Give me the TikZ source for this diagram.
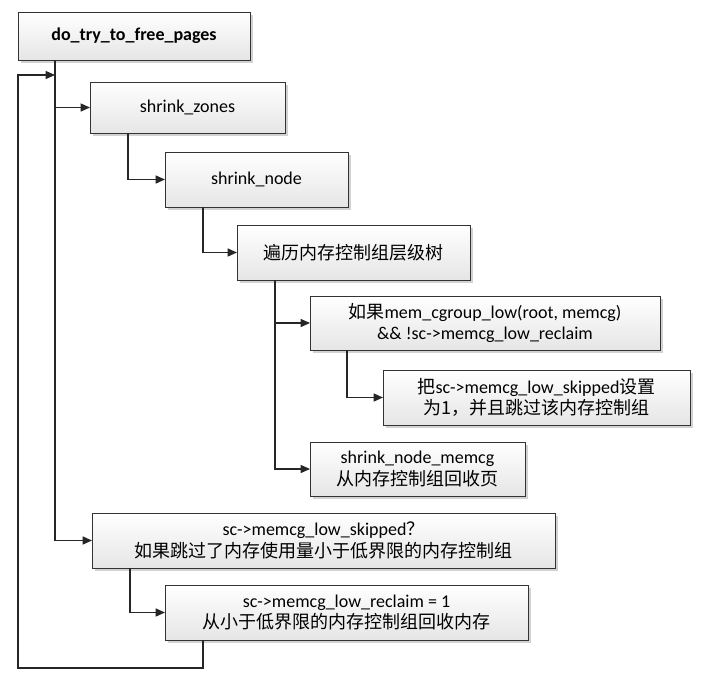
\documentclass[tikz,border=0pt]{standalone}
\usepackage{fontspec}
\setmainfont{Carlito}
\newfontfamily\cjk{Noto Sans CJK SC}
\usetikzlibrary{arrows.meta,shadows}
\begin{document}
\begin{tikzpicture}[x=0.75pt,y=-0.75pt,
  bx/.style={draw=black!80,top color=white,bottom color=black!10,drop shadow={shadow xshift=2pt,shadow yshift=-2pt,fill=black!35},align=center,inner sep=0},
  ar/.style={-{Triangle[length=7pt,width=6pt]},line width=1pt,black!85}]
\useasboundingbox (0,0) rectangle (701,683);
\newcommand\bxx[6]{\path[bx] (#2,#3) rectangle (#4,#5); \node[font=\fontsize{13.5}{16}\selectfont,align=center] (#1) at ({(#2+#4)/2},{(#3+#5)/2}) {#6}; \coordinate (#1w) at (#2,{(#3+#5)/2});}
\bxx{a}{18}{12}{250}{60}{\textbf{do\_try\_to\_free\_pages}}
\bxx{b}{90}{82}{285}{133}{shrink\_zones}
\bxx{c}{165}{152}{348}{207}{shrink\_node}
\bxx{d}{237}{225}{470}{280}{\cjk 遍历内存控制组层级树}
\bxx{e}{310}{296}{660}{350}{{\cjk 如果}mem\_cgroup\_low(root, memcg)\\\&\& !sc->memcg\_low\_reclaim}
\bxx{f}{383}{370}{690}{425}{{\cjk 把}sc->memcg\_low\_skipped{\cjk 设置}\\{\cjk 为1，并且跳过该内存控制组}}
\bxx{g}{310}{442}{525}{496}{shrink\_node\_memcg\\{\cjk 从内存控制组回收页}}
\bxx{h}{92}{513}{555}{568}{sc->memcg\_low\_skipped{\cjk ？}\\{\cjk 如果跳过了内存使用量小于低界限的内存控制组}}
\bxx{i}{165}{585}{528}{640}{sc->memcg\_low\_reclaim = 1\\{\cjk 从小于低界限的内存控制组回收内存}}
\coordinate (a1) at (55,60); \coordinate (b1) at (128,133); \coordinate (c1) at (203,207);
\coordinate (d1) at (275,280); \coordinate (e1) at (347,350); \coordinate (h1) at (130,568);
\coordinate (i1) at (203,640);
\draw[ar] (a1) |- (bw); \draw[ar] (a1) |- (hw);
\draw[ar] (b1) |- (cw); \draw[ar] (c1) |- (dw);
\draw[ar] (d1) |- (ew); \draw[ar] (d1) |- (gw);
\draw[ar] (e1) |- (fw); \draw[ar] (h1) |- (iw);
\coordinate (l1) at (18,668); \coordinate (l2) at (55,75);
\draw[ar] (i1) |- (l1) |- (l2);
\end{tikzpicture}
\end{document}
